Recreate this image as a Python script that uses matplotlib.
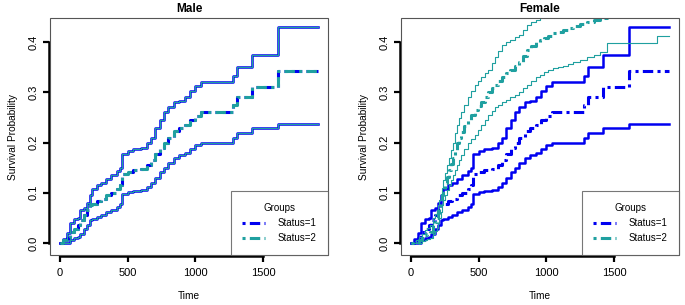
import matplotlib
matplotlib.use("Agg")
import matplotlib.pyplot as plt
from matplotlib.lines import Line2D
from matplotlib.patches import Rectangle
from matplotlib.ticker import FormatStrFormatter

plt.rcParams['font.family'] = ['Liberation Sans', 'DejaVu Sans']

# Status=1 cumulative curve (same in both panels): step times, estimate, lower, upper
s1_time = [0, 20, 50, 75, 100, 130, 150, 175, 200, 225, 240, 275, 300, 340, 380,
           420, 445, 455, 500, 540, 600, 640, 670, 700, 740, 770, 800, 840, 880,
           920, 960, 1000, 1045, 1279, 1305, 1415, 1611, 1906]
s1_est = [0, 0.005, 0.01, 0.022, 0.027, 0.035, 0.045, 0.055, 0.065, 0.075, 0.078,
          0.083, 0.088, 0.095, 0.1, 0.108, 0.115, 0.138, 0.142, 0.145, 0.148, 0.155,
          0.165, 0.178, 0.19, 0.2, 0.21, 0.222, 0.228, 0.235, 0.245, 0.253, 0.261,
          0.275, 0.29, 0.31, 0.342, 0.342]
s1_low = [0, 0, 0, 0.005, 0.01, 0.012, 0.018, 0.028, 0.035, 0.045, 0.048, 0.052,
          0.056, 0.062, 0.066, 0.072, 0.078, 0.098, 0.102, 0.104, 0.106, 0.112,
          0.12, 0.13, 0.142, 0.15, 0.16, 0.17, 0.175, 0.18, 0.187, 0.195, 0.2,
          0.21, 0.218, 0.228, 0.236, 0.236]
s1_up = [0, 0.008, 0.02, 0.04, 0.047, 0.05, 0.065, 0.07, 0.08, 0.095, 0.108, 0.115,
         0.12, 0.128, 0.135, 0.143, 0.15, 0.178, 0.183, 0.187, 0.19, 0.2, 0.21,
         0.228, 0.245, 0.26, 0.27, 0.28, 0.282, 0.29, 0.303, 0.312, 0.321, 0.333,
         0.351, 0.375, 0.43, 0.43]

# Status=2, female panel
f2_time = [0, 40, 60, 80, 100, 120, 140, 160, 175, 190, 200, 210, 220, 230, 240,
           250, 265, 280, 295, 310, 325, 340, 355, 370, 395, 420, 445, 470, 495,
           520, 545, 570, 595, 620, 645, 670, 700, 730, 765, 800, 830, 860, 890,
           920, 950, 980, 1015, 1050, 1085, 1120, 1160, 1200, 1250, 1300, 1350,
           1400, 1450, 1820, 1906]
f2_est = [0, 0, 0.005, 0.01, 0.015, 0.018, 0.022, 0.035, 0.042, 0.05, 0.06, 0.07,
          0.082, 0.095, 0.108, 0.12, 0.132, 0.145, 0.158, 0.17, 0.185, 0.2, 0.21,
          0.22, 0.233, 0.245, 0.255, 0.265, 0.273, 0.28, 0.29, 0.3, 0.308, 0.315,
          0.322, 0.33, 0.338, 0.345, 0.352, 0.36, 0.372, 0.385, 0.393, 0.4, 0.404,
          0.408, 0.413, 0.418, 0.421, 0.425, 0.428, 0.432, 0.436, 0.44, 0.444,
          0.448, 0.455, 0.47, 0.47]
f2_low = [0, 0, 0, 0.003, 0.005, 0.008, 0.01, 0.018, 0.024, 0.03, 0.04, 0.05,
          0.062, 0.075, 0.085, 0.095, 0.105, 0.115, 0.125, 0.135, 0.145, 0.155,
          0.165, 0.175, 0.188, 0.2, 0.208, 0.215, 0.225, 0.235, 0.245, 0.255,
          0.263, 0.27, 0.275, 0.28, 0.285, 0.29, 0.295, 0.3, 0.308, 0.315, 0.323,
          0.33, 0.335, 0.34, 0.344, 0.348, 0.35, 0.352, 0.356, 0.36, 0.365, 0.37,
          0.375, 0.38, 0.398, 0.413, 0.413]
f2_up = [0, 0.005, 0.012, 0.018, 0.025, 0.03, 0.035, 0.05, 0.058, 0.065, 0.075,
         0.085, 0.098, 0.11, 0.125, 0.14, 0.155, 0.17, 0.185, 0.2, 0.218, 0.235,
         0.248, 0.26, 0.275, 0.29, 0.303, 0.315, 0.323, 0.33, 0.338, 0.345, 0.358,
         0.37, 0.383, 0.395, 0.4, 0.405, 0.41, 0.415, 0.425, 0.435, 0.44, 0.445,
         0.452, 0.46, 0.465, 0.47, 0.475, 0.48, 0.485, 0.49, 0.495, 0.5, 0.505,
         0.51, 0.52, 0.54, 0.54]

titles = ['Male', 'Female']
labels = ['Status=1', 'Status=2']
# male panel: both groups give the same curve
panels = [
    [(s1_time, s1_est, s1_low, s1_up), (s1_time, s1_est, s1_low, s1_up)],
    [(s1_time, s1_est, s1_low, s1_up), (f2_time, f2_est, f2_low, f2_up)],
]

blue = '#0000f0'
teal = '#1fa0a0'
dotdash = (1, 1.4, 3.4, 1.4)

fig = plt.figure(figsize=(6.85, 3.05), dpi=100)
lefts = [50 / 685, 401 / 685]

for title, groups, left in zip(titles, panels, lefts):
    ax = fig.add_axes([left, 50 / 305, 278 / 685, 237 / 305])

    # status 1: thick blue
    t, est, lo, up = groups[0]
    ax.step(t, lo, where='post', color=blue, lw=1.8)
    ax.step(t, up, where='post', color=blue, lw=1.8)
    ax.step(t, est, where='post', color=blue, lw=2.2, dashes=dotdash)
    # status 2: teal, thin bounds
    t, est, lo, up = groups[1]
    ax.step(t, lo, where='post', color=teal, lw=0.8)
    ax.step(t, up, where='post', color=teal, lw=0.8)
    ln, = ax.step(t, est, where='post', color=teal, lw=2.2, dashes=dotdash)
    if title == 'Male':
        ln.set_dashes((3.4, 1.4, 1, 1.4))

    ax.set_xlim(-74, 1980)
    ax.set_ylim(-0.024, 0.448)
    ax.set_xticks([0, 500, 1000, 1500])
    ax.set_yticks([0, 0.1, 0.2, 0.3, 0.4])
    ax.yaxis.set_major_formatter(FormatStrFormatter('%.1f'))

    for side in ['top', 'right']:
        ax.spines[side].set_visible(False)
    ax.spines['left'].set_bounds(0, 0.4)
    ax.spines['bottom'].set_bounds(0, 1500)
    for side in ['left', 'bottom']:
        ax.spines[side].set_linewidth(1.8)
        ax.spines[side].set_position(('outward', 1))
    ax.add_patch(Rectangle((0, 0), 1, 1, transform=ax.transAxes, fill=False,
                           edgecolor='#555555', lw=0.8, clip_on=False, zorder=5))

    ax.tick_params(direction='out', length=4, width=1.6, labelsize=8, pad=4)
    ax.tick_params(axis='y', labelrotation=90, pad=3)
    for lab in ax.get_yticklabels():
        lab.set_va('center')

    ax.set_title(title, fontsize=8.5, fontweight='bold', pad=4)
    ax.set_xlabel('Time', fontsize=7.3, labelpad=10)
    ax.set_ylabel('Survival Probability', fontsize=7.3, labelpad=8)

    handles = [Line2D([], [], color=blue, lw=2.2, dashes=dotdash),
               Line2D([], [], color=teal, lw=2.2, dashes=dotdash)]
    leg = ax.legend(handles, labels, title='Groups', loc='lower right',
                    borderaxespad=0, fancybox=False, fontsize=7,
                    title_fontsize=7, handlelength=2.3, handletextpad=1.3,
                    borderpad=1.2, labelspacing=0.55)
    leg.get_frame().set_edgecolor('#555555')
    leg.get_frame().set_linewidth(0.8)

fig.savefig('out.png', dpi=100)
